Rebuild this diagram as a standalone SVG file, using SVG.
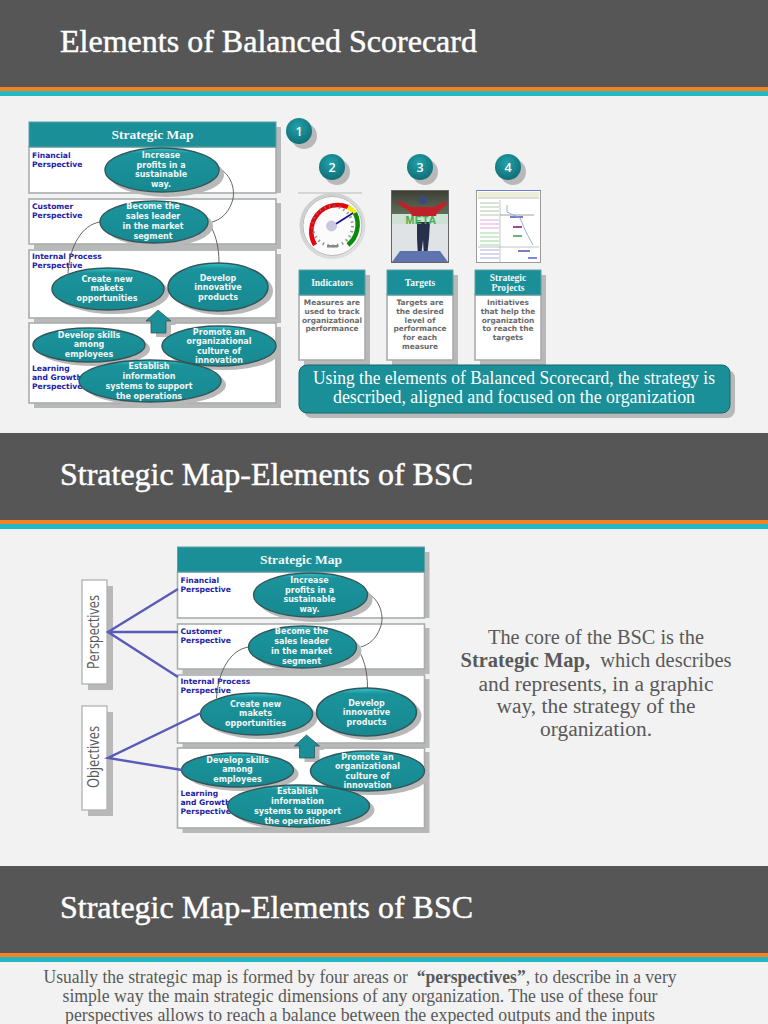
<svg xmlns="http://www.w3.org/2000/svg" width="768" height="1024" viewBox="0 0 768 1024">
<style>
.serif{font-family:"Liberation Serif","Times New Roman",serif}
.sans{font-family:"DejaVu Sans",Verdana,sans-serif;font-weight:700}
.title{font-size:31px;fill:#fff;stroke:#fff;stroke-width:.45}
.body{font-size:20px;fill:#595959;text-anchor:middle}
.para{font-size:18px;fill:#595959;text-anchor:middle}
.ban{font-size:18.500px;fill:#fff;text-anchor:middle}
.lab{font-size:7.6px;fill:#1c1ca8}
.ov{font-size:8px;fill:#f2f6f6;text-anchor:middle}
.ct{font-size:7.4px;fill:#6a6a6a;text-anchor:middle}
.mt{font-size:13.5px;font-weight:700;fill:#f4f8f8;text-anchor:middle}
.ch{font-size:9.5px;font-weight:700;fill:#f4f8f8;text-anchor:middle}
.num{font-family:"Open Sans",sans-serif;font-size:12.5px;font-weight:600;fill:#fff;text-anchor:middle}
.vert{font-family:"Open Sans",sans-serif;font-size:15.5px;fill:#595959;text-anchor:middle}
.band{fill:#565656}.or{fill:#f58220}.te{fill:#1fb8c4}
.row{fill:#fff;stroke:#a9adad;stroke-width:1.6}
.shad{fill:#b8b8b8}
.hdr{fill:#1a8f98;stroke:#5f9ea3;stroke-width:1}
.oval{fill:url(#og);stroke:#33565a;stroke-width:1.4}
.curve{fill:none;stroke:#555;stroke-width:.9}
.blue{fill:none;stroke:#5a5ab9;stroke-width:2.4}
</style>
<defs>
<linearGradient id="og" x1="0" y1="0" x2="0" y2="1"><stop offset="0" stop-color="#35c3cb"/><stop offset=".12" stop-color="#1b939b"/><stop offset="1" stop-color="#178890"/></linearGradient>
<radialGradient id="bg" cx=".45" cy=".35" r=".7"><stop offset="0" stop-color="#22a3ab"/><stop offset="1" stop-color="#106a72"/></radialGradient>
<linearGradient id="sky" x1="0" y1="0" x2="0" y2="1"><stop offset="0" stop-color="#3f3f38"/><stop offset="1" stop-color="#5f6f58"/></linearGradient>
<linearGradient id="ring" x1="0" y1="0" x2="1" y2="1"><stop offset="0" stop-color="#c8caca"/><stop offset="1" stop-color="#e2e4e4"/></linearGradient>
</defs>
<rect width="768" height="1024" fill="#f2f2f2"/>

<g id="slide1-header"><rect class="band" width="768" height="87"/><rect class="or" y="87" width="768" height="4"/><rect class="te" y="91" width="768" height="5"/>
<text class="serif title" x="60" y="52" textLength="417" lengthAdjust="spacingAndGlyphs">Elements of Balanced Scorecard</text></g>
<g id="slide2-header"><rect class="band" y="433" width="768" height="87"/><rect class="or" y="520" width="768" height="4"/><rect class="te" y="524" width="768" height="5"/>
<text class="serif title" x="60" y="485" textLength="413" lengthAdjust="spacingAndGlyphs">Strategic Map-Elements of BSC</text></g>
<g id="slide3-header"><rect class="band" y="866" width="768" height="87"/><rect class="or" y="953" width="768" height="4"/><rect class="te" y="957" width="768" height="5"/>
<text class="serif title" x="60" y="918" textLength="413" lengthAdjust="spacingAndGlyphs">Strategic Map-Elements of BSC</text></g>

<g id="map1">
<g id="map1-frame">
<rect class="shad" x="34" y="127" width="247" height="66"/><rect class="shad" x="34" y="203" width="247" height="46"/><rect class="shad" x="34" y="254" width="247" height="69"/><rect class="shad" x="34" y="327" width="247" height="81"/>
<rect class="row" x="29" y="147" width="247" height="46"/><rect class="row" x="29" y="199" width="247" height="45"/><rect class="row" x="29" y="250" width="247" height="68"/><rect class="row" x="29" y="323" width="247" height="80"/>
<rect class="hdr" x="29" y="122" width="247" height="25"/>
<text class="serif mt" x="152.500" y="139">Strategic Map</text></g>
<g id="map1-labels" class="sans">
<text class="lab" x="32" y="158">Financial</text><text class="lab" x="32" y="167">Perspective</text>
<text class="lab" x="32" y="209">Customer</text><text class="lab" x="32" y="218">Perspective</text>
<text class="lab" x="32" y="259">Internal Process</text><text class="lab" x="32" y="268">Perspective</text>
<text class="lab" x="32" y="371">Learning</text><text class="lab" x="32" y="380">and Growth</text><text class="lab" x="32" y="389">Perspective</text></g>
<g id="map1-connectors">
<path class="curve" d="M218 168C232 174 236 192 232 202C228 214 220 220 212 222"/>
<path class="curve" d="M100 222C82 225 70 245 68 273"/>
<path class="curve" d="M208 222C215 232 219 245 219 263"/></g>
<g id="map1-increase"><ellipse class="shad" cx="167" cy="175" rx="57" ry="22"/><ellipse class="oval" cx="162" cy="170" rx="57" ry="22"/>
<g class="sans"><text class="ov" x="161" y="158">Increase</text><text class="ov" x="161" y="168">profits in a</text><text class="ov" x="161" y="177">sustainable</text><text class="ov" x="161" y="187">way.</text></g></g>
<g id="map1-become"><ellipse class="shad" cx="159" cy="226" rx="54" ry="21"/><ellipse class="oval" cx="154" cy="222" rx="54" ry="21"/>
<g class="sans"><text class="ov" x="153" y="209">Become the</text><text class="ov" x="153" y="219">sales leader</text><text class="ov" x="153" y="229">in the market</text><text class="ov" x="153" y="239">segment</text></g></g>
<g id="map1-create"><ellipse class="shad" cx="113" cy="293" rx="56" ry="21"/><ellipse class="oval" cx="108" cy="289" rx="56" ry="21"/>
<g class="sans"><text class="ov" x="107" y="282">Create new</text><text class="ov" x="107" y="291">makets</text><text class="ov" x="107" y="301">opportunities</text></g></g>
<g id="map1-develop"><ellipse class="shad" cx="223" cy="291" rx="50" ry="24"/><ellipse class="oval" cx="218" cy="287" rx="50" ry="24"/>
<g class="sans"><text class="ov" x="218" y="281">Develop</text><text class="ov" x="218" y="290">innovative</text><text class="ov" x="218" y="300">products</text></g></g>
<g id="map1-arrow"><path class="shad" d="M163 314L176 325H171V337H156V325H151Z"/><path fill="#1a8f98" stroke="#33565a" stroke-width=".8" d="M158 310L171 321H166V333H151V321H146Z"/></g>
<g id="map1-skills"><ellipse class="shad" cx="94" cy="349" rx="56" ry="17"/><ellipse class="oval" cx="89" cy="345" rx="56" ry="17"/>
<g class="sans"><text class="ov" x="89" y="338">Develop skills</text><text class="ov" x="89" y="347">among</text><text class="ov" x="89" y="357">employees</text></g></g>
<g id="map1-promote"><ellipse class="shad" cx="224" cy="350" rx="57" ry="20"/><ellipse class="oval" cx="219" cy="346" rx="57" ry="20"/>
<g class="sans"><text class="ov" x="219" y="335">Promote an</text><text class="ov" x="219" y="344">organizational</text><text class="ov" x="219" y="354">culture of</text><text class="ov" x="219" y="363">innovation</text></g></g>
<g id="map1-establish"><ellipse class="shad" cx="155" cy="385" rx="71" ry="21"/><ellipse class="oval" cx="150" cy="381" rx="71" ry="21"/>
<g class="sans"><text class="ov" x="149" y="369">Establish</text><text class="ov" x="149" y="379">information</text><text class="ov" x="149" y="389">systems to support</text><text class="ov" x="149" y="399">the operations</text></g></g>
</g>

<g id="badge1"><circle class="shad" cx="304" cy="136" r="13"/><circle cx="299" cy="131" r="13" fill="url(#bg)"/><text class="num" x="299" y="136">1</text></g>
<g id="badge2"><circle class="shad" cx="337" cy="172" r="13"/><circle cx="332" cy="167" r="13" fill="url(#bg)"/><text class="num" x="332" y="172">2</text></g>
<g id="badge3"><circle class="shad" cx="425" cy="172" r="13"/><circle cx="420" cy="167" r="13" fill="url(#bg)"/><text class="num" x="420" y="172">3</text></g>
<g id="badge4"><circle class="shad" cx="513" cy="172" r="13"/><circle cx="508" cy="167" r="13" fill="url(#bg)"/><text class="num" x="508" y="172">4</text></g>

<g id="gauge">
<path d="M298 193H362" stroke="#aaa" stroke-width=".8" fill="none"/>
<circle cx="332.500" cy="226" r="31.500" fill="#fbfbfb" stroke="url(#ring)" stroke-width="3"/>
<circle cx="332.500" cy="226" r="29.500" fill="none" stroke="#9a9c9c" stroke-width=".7"/>
<path d="M315 245A26.500 26.500 0 0 1 348 207" fill="none" stroke="#e8000b" stroke-width="4.500"/>
<path d="M348 207A26.500 26.500 0 0 1 355 213" fill="none" stroke="#f5ec00" stroke-width="4.500"/>
<path d="M355 213A26.500 26.500 0 0 1 348 245" fill="none" stroke="#0a8a0a" stroke-width="4.500"/>
<circle cx="332.500" cy="226" r="20" fill="none" stroke="#777" stroke-width="3" stroke-dasharray="1.500 3.500" opacity=".75"/>
<path d="M335 224.500L353 213" stroke="#10108c" stroke-width="1.500"/>
<circle cx="331.500" cy="226" r="5" fill="#c8c8e0" stroke="#b5b5c5" stroke-width=".6"/>
<rect x="327" y="245" width="11" height="2.500" fill="#888"/>
</g>

<g id="photo">
<rect x="391.500" y="190.500" width="57" height="72" fill="#dfe3e6" stroke="#666" stroke-width="1"/>
<rect x="392" y="191" width="56" height="23" fill="url(#sky)"/>
<rect x="392" y="214" width="56" height="10" fill="#cfe0d4"/>
<path d="M397 203L400 201L412 207H434L445 201L447 204L437 213L436 216H412L410 212Z" fill="#c0202a"/>
<circle cx="423" cy="200" r="4" fill="#3a4a80"/>
<path d="M417 222H430L429 238L427 257H424L423 240L421 257H418L417 238Z" fill="#26304c"/>
<path d="M400 251H440L448 262H392Z" fill="#5f74ae"/>
<text x="421" y="224" font-family="Liberation Sans,sans-serif" font-weight="700" font-size="10.500" letter-spacing=".5" fill="#3fae52" text-anchor="middle">META</text>
</g>

<g id="gantt">
<rect x="476.500" y="190.500" width="64" height="72" fill="#fff" stroke="#9a9a9a"/>
<rect x="476.500" y="190" width="64" height="1" fill="#6a80d0"/>
<rect x="478" y="192" width="61" height="5" fill="#ecefd6"/>
<path d="M478 198H539" stroke="#bbb" stroke-width="1"/>
<path d="M480 203H499M480 207H499M480 211H499M480 215H499" stroke="#c8dcc8" stroke-width="1.500"/>
<path d="M480 220H499M480 224H499M480 228H499" stroke="#ecc8ec" stroke-width="1.500"/>
<path d="M480 233H499M480 237H499M480 241H499M480 245H499" stroke="#c0e4c0" stroke-width="1.500"/>
<path d="M480 250H499M480 254H499M480 258H499" stroke="#c8c8ec" stroke-width="1.500"/>
<path d="M500 200V262M478 247H539" stroke="#888" stroke-width=".5"/>
<path d="M500 215H534" stroke="#888" stroke-width=".8"/>
<path d="M510 217H523" stroke="#6a6ac8" stroke-width="1.800"/><path d="M513 227H522" stroke="#8a3a90" stroke-width="1.800"/><path d="M513 236H522" stroke="#3a9a4a" stroke-width="1.500"/>
<path d="M518 251H530" stroke="#7070c0" stroke-width="1.800"/><path d="M528 258H537" stroke="#5a5ae0" stroke-width="1.500"/>
<path d="M507 205V212L520 218L526 232L533 245" stroke="#8aa8d8" stroke-width=".9" fill="none"/>
</g>

<g id="card-indicators">
<rect class="shad" x="304" y="275" width="66" height="90"/><rect class="row" x="299" y="295" width="66" height="65"/><rect class="hdr" x="299" y="270" width="66" height="25"/>
<text class="serif ch" x="332" y="285.500">Indicators</text>
<g class="sans"><text class="ct" x="332" y="305">Measures are</text><text class="ct" x="332" y="313.500">used to track</text><text class="ct" x="332" y="322.500">organizational</text><text class="ct" x="332" y="331">performance</text></g></g>
<g id="card-targets">
<rect class="shad" x="392" y="275" width="66" height="90"/><rect class="row" x="387" y="295" width="66" height="65"/><rect class="hdr" x="387" y="270" width="66" height="25"/>
<text class="serif ch" x="420" y="285.500">Targets</text>
<g class="sans"><text class="ct" x="420" y="305">Targets are</text><text class="ct" x="420" y="313.500">the desired</text><text class="ct" x="420" y="322.500">level of</text><text class="ct" x="420" y="331">performance</text><text class="ct" x="420" y="340">for each</text><text class="ct" x="420" y="349">measure</text></g></g>
<g id="card-projects">
<rect class="shad" x="480" y="275" width="66" height="90"/><rect class="row" x="475" y="295" width="66" height="65"/><rect class="hdr" x="475" y="270" width="66" height="25"/>
<text class="serif ch" x="508" y="280.500">Strategic</text><text class="serif ch" x="508" y="290.500">Projects</text>
<g class="sans"><text class="ct" x="508" y="305">Initiatives</text><text class="ct" x="508" y="313.500">that help the</text><text class="ct" x="508" y="322.500">organization</text><text class="ct" x="508" y="331">to reach the</text><text class="ct" x="508" y="340">targets</text></g></g>

<g id="banner">
<rect class="shad" x="304" y="370" width="431" height="48" rx="8"/>
<rect x="299" y="365" width="431" height="48" rx="8" fill="#1a8f98" stroke="#16666d" stroke-width="1"/>
<text class="serif ban" x="514" y="384" textLength="402" lengthAdjust="spacingAndGlyphs">Using the elements of Balanced Scorecard, the strategy is</text>
<text class="serif ban" x="514" y="403" textLength="362" lengthAdjust="spacingAndGlyphs">described, aligned and focused on the organization</text>
</g>

<g id="map2" transform="translate(148.500 425)">
<g id="map2-frame">
<rect class="shad" x="34" y="127" width="247" height="66"/><rect class="shad" x="34" y="203" width="247" height="46"/><rect class="shad" x="34" y="254" width="247" height="69"/><rect class="shad" x="34" y="327" width="247" height="81"/>
<rect class="row" x="29" y="147" width="247" height="46"/><rect class="row" x="29" y="199" width="247" height="45"/><rect class="row" x="29" y="250" width="247" height="68"/><rect class="row" x="29" y="323" width="247" height="80"/>
<rect class="hdr" x="29" y="122" width="247" height="25"/>
<text class="serif mt" x="152.500" y="139">Strategic Map</text></g>
<g id="map2-labels" class="sans">
<text class="lab" x="32" y="158">Financial</text><text class="lab" x="32" y="167">Perspective</text>
<text class="lab" x="32" y="209">Customer</text><text class="lab" x="32" y="218">Perspective</text>
<text class="lab" x="32" y="259">Internal Process</text><text class="lab" x="32" y="268">Perspective</text>
<text class="lab" x="32" y="371">Learning</text><text class="lab" x="32" y="380">and Growth</text><text class="lab" x="32" y="389">Perspective</text></g>
<g id="map2-connectors">
<path class="curve" d="M218 168C232 174 236 192 232 202C228 214 220 220 212 222"/>
<path class="curve" d="M100 222C82 225 70 245 68 273"/>
<path class="curve" d="M208 222C215 232 219 245 219 263"/></g>
<g id="map2-increase"><ellipse class="shad" cx="167" cy="175" rx="57" ry="22"/><ellipse class="oval" cx="162" cy="170" rx="57" ry="22"/>
<g class="sans"><text class="ov" x="161" y="158">Increase</text><text class="ov" x="161" y="168">profits in a</text><text class="ov" x="161" y="177">sustainable</text><text class="ov" x="161" y="187">way.</text></g></g>
<g id="map2-become"><ellipse class="shad" cx="159" cy="226" rx="54" ry="21"/><ellipse class="oval" cx="154" cy="222" rx="54" ry="21"/>
<g class="sans"><text class="ov" x="153" y="209">Become the</text><text class="ov" x="153" y="219">sales leader</text><text class="ov" x="153" y="229">in the market</text><text class="ov" x="153" y="239">segment</text></g></g>
<g id="map2-create"><ellipse class="shad" cx="113" cy="293" rx="56" ry="21"/><ellipse class="oval" cx="108" cy="289" rx="56" ry="21"/>
<g class="sans"><text class="ov" x="107" y="282">Create new</text><text class="ov" x="107" y="291">makets</text><text class="ov" x="107" y="301">opportunities</text></g></g>
<g id="map2-develop"><ellipse class="shad" cx="223" cy="291" rx="50" ry="24"/><ellipse class="oval" cx="218" cy="287" rx="50" ry="24"/>
<g class="sans"><text class="ov" x="218" y="281">Develop</text><text class="ov" x="218" y="290">innovative</text><text class="ov" x="218" y="300">products</text></g></g>
<g id="map2-arrow"><path class="shad" d="M163 314L176 325H171V337H156V325H151Z"/><path fill="#1a8f98" stroke="#33565a" stroke-width=".8" d="M158 310L171 321H166V333H151V321H146Z"/></g>
<g id="map2-skills"><ellipse class="shad" cx="94" cy="349" rx="56" ry="17"/><ellipse class="oval" cx="89" cy="345" rx="56" ry="17"/>
<g class="sans"><text class="ov" x="89" y="338">Develop skills</text><text class="ov" x="89" y="347">among</text><text class="ov" x="89" y="357">employees</text></g></g>
<g id="map2-promote"><ellipse class="shad" cx="224" cy="350" rx="57" ry="20"/><ellipse class="oval" cx="219" cy="346" rx="57" ry="20"/>
<g class="sans"><text class="ov" x="219" y="335">Promote an</text><text class="ov" x="219" y="344">organizational</text><text class="ov" x="219" y="354">culture of</text><text class="ov" x="219" y="363">innovation</text></g></g>
<g id="map2-establish"><ellipse class="shad" cx="155" cy="385" rx="71" ry="21"/><ellipse class="oval" cx="150" cy="381" rx="71" ry="21"/>
<g class="sans"><text class="ov" x="149" y="369">Establish</text><text class="ov" x="149" y="379">information</text><text class="ov" x="149" y="389">systems to support</text><text class="ov" x="149" y="399">the operations</text></g></g>
</g>

<g id="box-perspectives"><rect class="shad" x="88" y="586" width="25" height="104"/><rect x="82" y="580" width="25" height="104" fill="#fff" stroke="#a9adad" stroke-width="1.200"/>
<text class="vert" transform="translate(99 632) rotate(-90)" textLength="74" lengthAdjust="spacingAndGlyphs">Perspectives</text></g>
<g id="box-objectives"><rect class="shad" x="88" y="712" width="25" height="104"/><rect x="82" y="706" width="25" height="104" fill="#fff" stroke="#a9adad" stroke-width="1.200"/>
<text class="vert" transform="translate(99 757) rotate(-90)" textLength="62" lengthAdjust="spacingAndGlyphs">Objectives</text></g>
<g id="connectors">
<path class="blue" d="M178 589L108 632L178 677M108 632H178"/>
<path class="blue" d="M201 713L108 758L182 770"/>
</g>

<g id="core-text" class="serif">
<text class="body" x="596" y="644" textLength="216" lengthAdjust="spacingAndGlyphs">The core of the BSC is the</text>
<text class="body" x="596" y="667" textLength="271" lengthAdjust="spacingAndGlyphs" xml:space="preserve"><tspan font-weight="700">Strategic Map,</tspan>  which describes</text>
<text class="body" x="596" y="691" textLength="235" lengthAdjust="spacingAndGlyphs">and represents, in a graphic</text>
<text class="body" x="596" y="713" textLength="199" lengthAdjust="spacingAndGlyphs">way, the strategy of the</text>
<text class="body" x="596" y="736" textLength="112" lengthAdjust="spacingAndGlyphs">organization.</text>
</g>
<g id="para" class="serif">
<text class="para" x="360" y="983" textLength="633" lengthAdjust="spacingAndGlyphs" xml:space="preserve">Usually the strategic map is formed by four areas or  <tspan font-weight="700">“perspectives”</tspan>, to describe in a very</text>
<text class="para" x="360" y="1002" textLength="595" lengthAdjust="spacingAndGlyphs">simple way the main strategic dimensions of any organization. The use of these four</text>
<text class="para" x="360" y="1021" textLength="590" lengthAdjust="spacingAndGlyphs">perspectives allows to reach a balance between the expected outputs and the inputs</text>
</g>
</svg>
